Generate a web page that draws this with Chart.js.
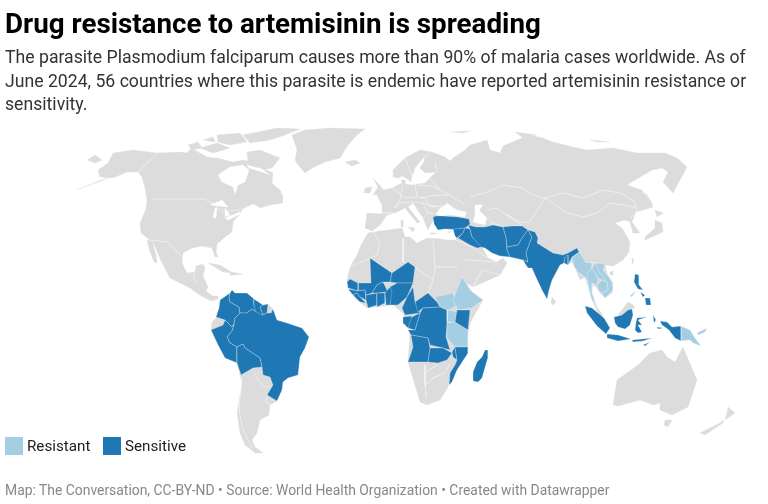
<!DOCTYPE html>
<html>
<head>
<meta charset="utf-8">
<script src="https://cdn.jsdelivr.net/npm/chart.js@4"></script>
<style>
    body { margin: 0; background: #fff; font-family: Roboto, sans-serif; }
    #wrap { position: relative; width: 768px; height: 504px; overflow: hidden; }
    #map { position: absolute; left: 0; top: 0; }
    h1 { position: absolute; left: 5px; top: 7px; margin: 0; font-size: 27.75px; line-height: 34px; font-weight: 700; color: #000; white-space: nowrap; }
    #sub { position: absolute; left: 5px; top: 46px; font-size: 17.65px; line-height: 23.5px; color: #333; white-space: nowrap; }
    #legend { position: absolute; left: 5px; top: 437px; font-size: 15.2px; line-height: 18px; color: #222; }
    #legend span { position: absolute; top: 0; white-space: nowrap; }
    #legend i { position: absolute; top: 0; width: 18px; height: 18px; }
    #foot { position: absolute; left: 5px; top: 481px; font-size: 13.9px; line-height: 18px; color: #888; white-space: nowrap; }
</style>
</head>
<body>
<div id="wrap">
    <canvas id="map" width="768" height="504"></canvas>
    <h1>Drug resistance to artemisinin is spreading</h1>
    <div id="sub">The parasite Plasmodium falciparum causes more than 90% of malaria cases worldwide. As of<br>June 2024, 56 countries where this parasite is endemic have reported artemisinin resistance or<br>sensitivity.</div>
    <div id="legend"></div>
    <div id="foot">Map: The Conversation, CC-BY-ND • Source: World Health Organization • Created with Datawrapper</div>
</div>
<script>
const legendLabels = ['Resistant', 'Sensitive'];
const landColor = '#dcdcdc';
const resistantColor = '#a6cee3';
const sensitiveColor = '#1f78b4';

// outlines, x / y in map units
const northAmerica = [[157,153],[180,152],[187,153],[191,148],[198,152],[207,157],[217,158],[233,162],[243,160],[252,162],[262,168],[273,173],[272,183],[281,191],[283,203],[270,205],[260,208],[254,204],[243,209],[239,215],[233,222],[232,232],[225,237],[217,244],[216,252],[218,257],[215,257],[212,248],[202,246],[192,248],[183,253],[182,263],[187,273],[195,272],[196,266],[203,264],[205,268],[203,276],[205,280],[208,287],[206,291],[213,296],[218,296],[218,299],[212,301],[205,298],[198,294],[190,288],[180,283],[170,278],[162,263],[153,242],[147,238],[141,233],[140,223],[146,209],[147,200],[145,188],[142,177],[138,172],[127,172],[113,178],[100,177],[98,170],[108,163],[113,153],[133,150]];
const baja = [[147,240],[152,240],[156,255],[157,263],[154,262],[150,252]];
const alaskaChain = [[112,176],[77,189.5],[100,181.5]];
const alaskaIsland = [[87,160],[95,155],[102,160],[95,163]];
const baffin = [[247,152],[260,150],[280,158],[272,168],[262,170],[248,162]];
const victoria = [[200,148],[217,143],[230,148],[213,153]];
const banks = [[188,145],[198,142],[202,148],[192,150]];
const ellesmere = [[243,135],[277,128],[300,129],[285,135],[270,140],[250,143]];
const devon = [[217,135],[240,133],[247,142],[230,145],[218,142]];
const melville = [[203,140],[213,137],[215,142]];
const newfoundland = [[275,198],[283,195],[282,203]];
const greenland = [[292,135],[305,130],[330,128],[365,129],[357,135],[348,145],[340,158],[325,162],[312,168],[305,173],[298,165],[295,160],[297,150]];
const cuba = [[208,263],[220,265],[233,273],[223,272]];
const hispaniola = [[230,272],[243,274],[230,275.5]];
const southCone = [[237,363],[241,375],[253,368],[262,367],[263,375],[270,377],[273,385],[267,395],[277,401],[270,405],[269,415],[260,420],[257,433],[252,440],[255,447],[263,453],[255,453],[245,445],[240,433],[237,413],[242,383]];
const ecuador = [[217,317],[225,320],[223,325],[213,329],[211,330],[212,322]];
const frenchGuiana = [[268,304],[273,309],[271,313],[267,313]];
const eurasia = [[365,228],[367,213],[382,214],[382,205],[375,192],[392,188],[402,183],[401,180],[405,180],[405,184],[412,185],[425,183],[430,178],[436,172],[425,173],[420,168],[425,160],[423,158],[415,168],[412,176],[411,182],[406,178],[402,176],[398,178],[393,177],[393,170],[405,158],[420,150],[432,152],[445,157],[450,161],[453,158],[465,150],[470,145],[487,140],[490,150],[500,153],[503,146],[517,140],[530,135],[543,138],[553,142],[573,147],[587,150],[613,148],[637,153],[665,153],[677,158],[687,167],[673,193],[663,182],[668,172],[662,168],[652,170],[627,185],[642,190],[653,207],[636,212],[632,222],[640,233],[633,233],[630,222],[625,220],[615,223],[622,228],[630,242],[629,252],[623,260],[613,266],[605,265],[607,273],[613,283],[612,293],[605,298],[600,293],[597,288],[593,285],[592,293],[597,307],[603,315],[600,317],[592,300],[588,287],[585,277],[580,280],[575,268],[572,262],[568,265],[565,262],[560,265],[552,280],[549,290],[547,299],[542,290],[535,275],[532,268],[526,265],[523,260],[510,257],[500,255],[492,252],[485,247],[482,247],[488,258],[497,262],[503,258],[507,263],[500,275],[473,287],[465,282],[450,247],[448,243],[447,240],[456,240],[456,231],[453,229],[437,228],[435,218],[432,222],[428,230],[423,218],[413,203],[408,207],[420,222],[417,223],[405,208],[395,213],[387,215],[380,225],[372,231]];
const africa = [[368,233],[373,232],[402,228],[405,237],[410,237],[417,243],[427,238],[440,239],[447,240],[453,250],[463,277],[472,292],[483,300],[470,323],[468,338],[468,348],[452,373],[448,387],[440,400],[427,405],[420,402],[408,362],[410,333],[403,313],[393,305],[367,308],[355,298],[347,280],[350,267],[357,255],[361,245]];
const britain = [[373,178],[382,188],[385,193],[373,195],[378,187]];
const ireland = [[365,188],[372,187],[370,193],[364,193]];
const iceland = [[345,162],[355,160],[360,163],[352,166]];
const sicily = [[408,227],[415,228],[413,232]];
const sardinia = [[401,220],[403,220],[403,227],[401,227]];
const crete = [[430,233],[436,233],[436,234],[430,234]];
const cyprus = [[447,232],[451,231],[450,233]];
const svalbard = [[450,132],[470,131],[463,133]];
const northIslands = [[515,132],[537,135],[523,138]];
const siberianIslands = [[590,140],[610,142],[597,142]];
const sakhalin = [[645,193],[647,195],[653,205],[651,205]];
const honshu = [[655,220],[662,223],[663,232],[652,237],[645,240],[645,237],[655,228]];
const hokkaido = [[655,210],[663,213],[657,217]];
const taiwan = [[632,258],[634,260],[632,265]];
const hainan = [[610,272],[613,271],[613,275],[610,275]];
const sriLanka = [[552,297],[556,302],[553,305],[551,303]];
const northBorneo = [[618,315],[628,302],[633,305],[635,308],[632,309],[628,310],[622,315]];
const australia = [[613,405],[617,380],[638,365],[650,353],[662,350],[667,357],[675,362],[683,347],[697,380],[688,407],[672,415],[660,410],[660,403],[653,405],[640,400],[618,406]];
const tasmania = [[665,420],[672,420],[668,427],[664,425]];
const nzSouth = [[700,433],[720,423],[723,420],[723,423],[705,435]];
const nzNorth = [[728,407],[735,413],[725,420],[727,413]];

const landAreas = [northAmerica, baja, alaskaChain, alaskaIsland, baffin, victoria, banks, ellesmere, devon, melville, newfoundland, greenland, cuba, hispaniola, southCone, ecuador, frenchGuiana, eurasia, africa, britain, ireland, iceland, sicily, sardinia, crete, cyprus, svalbard, northIslands, siberianIslands, sakhalin, honshu, hokkaido, taiwan, hainan, sriLanka, northBorneo, australia, tasmania, nzSouth, nzNorth];

// seas and lakes cut out of the land
const hudsonBay = [[218,175],[230,167],[243,165],[249,170],[245,182],[238,185],[235,194],[233,187],[222,182]];
const hudsonStrait = [[247,165],[262,169],[270,175],[262,172],[249,168]];
const superior = [[210,205],[222,200],[228,207],[218,206]];
const michigan = [[215,208],[217,208],[216,218],[213,218]];
const huron = [[225,208],[230,215],[225,217]];
const erie = [[225,218],[240,212],[240,214],[228,220]];
const blackSea = [[436,214],[440,208],[445,206],[447,203],[452,207],[457,210],[466,212],[465,217],[450,215],[440,216]];
const caspian = [[475,205],[483,205],[479,210],[487,218],[485,225],[473,222],[475,215]];
const waterAreas = [hudsonBay, hudsonStrait, superior, michigan, huron, erie, blackSea, caspian];

const sensitiveAreas = [
    [[230,293],[220,300],[219,308],[216,317],[225,320],[232,327],[234,324],[235,318],[240,313],[239,307],[230,302],[229,297]],
    [[230,293],[232,290],[235,293],[247,293],[254,299],[254,305],[258,313],[252,309],[247,313],[240,313],[239,307],[230,302],[229,297]],
    [[254,299],[263,305],[260,307],[263,315],[257,316],[254,305]],
    [[263,305],[268,304],[267,313],[263,315],[260,307]],
    [[271,313],[273,309],[277,320],[287,323],[302,328],[309,337],[305,348],[300,357],[298,375],[288,378],[283,382],[282,390],[277,401],[267,395],[273,385],[270,377],[263,375],[262,367],[260,358],[245,348],[243,344],[237,347],[230,343],[227,337],[232,331],[234,324],[235,318],[240,313],[247,313],[252,309],[258,313],[263,315],[267,313]],
    [[211,330],[213,329],[223,325],[225,320],[232,327],[234,324],[232,331],[227,337],[230,343],[237,347],[237,363],[225,358],[218,345]],
    [[237,347],[243,344],[245,348],[260,358],[262,367],[253,368],[241,375],[237,363]],
    [[433,217],[436,216],[443,216],[458,217],[469,219],[470,224],[468,226],[465,228],[455,229.5],[445,229],[438,230],[434,224]],
    [[453,229],[465,228],[463,233],[457,238],[455,236]],
    [[465,228],[470,229],[472,237],[482,247],[477,248],[470,245],[458,238],[463,233]],
    [[468,225],[476,227],[485,227],[493,225],[503,227],[506,237],[507,250],[510,257],[500,256],[492,253],[485,248],[481,247],[472,237],[470,229]],
    [[503,227],[512,226],[522,226],[528,230],[522,238],[518,245],[507,247],[506,237]],
    [[528,230],[532,237],[526,253],[528,262],[523,260],[510,257],[507,250],[507,247],[518,245],[522,238]],
    [[528,230],[535,232],[538,238],[537,243],[553,253],[563,255],[568,253],[577,248],[579,252],[572,257],[568,265],[565,257],[564,263],[560,265],[552,280],[549,290],[547,299],[542,290],[535,275],[532,268],[528,268],[526,265],[523,260],[528,262],[526,253],[532,237]],
    [[565,257],[568,255],[568,265],[564,263]],
    [[358,283],[358,291],[365,290],[366,295],[372,293],[377,285],[383,282],[390,282],[392,273],[370,258],[371,283]],
    [[392,273],[408,262],[415,267],[413,283],[397,283],[390,282]],
    [[390,287],[397,283],[413,283],[407,297],[398,305],[390,305]],
    [[413,287],[415,302],[420,313],[405,315],[402,308],[407,297]],
    [[415,302],[428,293],[437,302],[440,307],[423,308],[418,312]],
    [[457,310],[470,310],[468,330],[455,322]],
    [[420,313],[423,308],[440,307],[447,310],[447,322],[446,337],[450,350],[443,348],[430,345],[428,338],[411,335],[408,330],[415,330]],
    [[420,313],[415,330],[408,328],[407,322],[412,317]],
    [[403,317],[412,316],[408,328],[403,323]],
    [[411,335],[428,338],[430,348],[428,362],[408,362],[413,347]],
    [[430,348],[443,348],[452,353],[447,360],[438,363],[428,362]],
    [[455,347],[457,360],[453,357],[452,352]],
    [[455,347],[468,347],[468,353],[457,370],[452,382],[449,385],[450,373],[455,365],[457,360]],
    [[347,282],[350,279],[358,283],[358,291],[348,288]],
    [[348,289],[358,291],[365,290],[366,300],[360,297],[357,293],[353,295]],
    [[353,295],[357,293],[360,297],[366,303],[360,302]],
    [[366,295],[377,293],[377,305],[368,308],[366,300]],
    [[372,293],[377,285],[383,282],[388,292],[377,293]],
    [[377,293],[385,293],[385,303],[377,307]],
    [[385,293],[390,287],[392,292],[390,305],[386,305]],
    [[485,350],[488,350],[488,357],[482,378],[478,382],[473,381],[473,372],[477,362],[482,357]],
    [[635,274],[639,275],[639,285],[643,290],[638,289],[634,282]],
    [[645,298],[650,298],[651,305],[646,305]],
    [[640,292],[645,295],[643,297]],
    [[585,306],[592,308],[604,318],[610,328],[606,334],[597,326],[587,313]],
    [[607,334],[618,335],[631,339],[618,341],[607,338]],
    [[632,340],[652,338],[643,341],[633,342]],
    [[643,345],[650,342],[645,346]],
    [[614,317],[622,315],[628,310],[632,309],[633,315],[630,325],[625,329],[618,327],[615,323]],
    [[637,318],[647,317],[638,320],[642,325],[638,325],[642,332],[638,333],[635,330],[636,322]],
    [[653,315],[656,320],[654,323]],
    [[657,327],[663,328],[658,329]],
    [[660,321],[667,322],[672,327],[681,326],[681,341],[675,338],[669,330],[662,325]]
];

const resistantAreas = [
    [[572,258],[579,252],[582,256],[585,262],[592,263],[592,268],[587,273],[592,283],[590,290],[587,280],[585,277],[578,272],[574,266]],
    [[587,273],[592,268],[598,278],[597,285],[592,283],[592,293],[595,303],[592,300],[589,288]],
    [[592,268],[595,263],[600,273],[607,282],[602,280],[598,278]],
    [[595,263],[605,264],[603,270],[612,282],[613,290],[605,298],[602,293],[608,290],[607,282],[600,273]],
    [[597,285],[602,280],[607,282],[608,290],[602,293],[598,290]],
    [[435,297],[453,293],[455,302],[458,305],[448,310],[440,307]],
    [[462,277],[470,290],[483,300],[472,308],[458,310],[453,300],[458,287]],
    [[448,310],[457,312],[455,322],[447,322]],
    [[447,323],[455,322],[468,330],[468,347],[455,347],[447,338]],
    [[681,326],[690,330],[695,338],[701,346],[693,343],[690,340],[681,341]],
    [[697,333],[707,328],[705,332],[698,335]],
    [[630,296],[636,290],[632,297]]
];

// white country lines on the grey land
const borderLines = [
    [[157,153],[138,172]],
    [[152,199],[205,199],[215,205],[222,212],[240,210],[254,204]],
    [[148,240],[168,242],[177,252],[182,257]],
    [[195,272],[193,278],[197,282]],
    [[242,377],[239,410],[243,430],[253,450]],
    [[254,374],[263,387],[271,386]],
    [[267,395],[266,402],[270,405]],
    [[382,213],[395,213]],
    [[403,184],[400,200],[395,208],[400,203],[413,202]],
    [[415,184],[417,197],[425,198],[430,207]],
    [[430,178],[440,190],[450,195],[465,205]],
    [[430,207],[448,205]],
    [[417,197],[405,198],[392,188]],
    [[423,203],[437,207]],
    [[435,162],[437,172]],
    [[423,158],[430,153]],
    [[405,158],[412,176]],
    [[417,185],[432,186],[440,190]],
    [[420,198],[437,195],[450,195]],
    [[413,202],[423,203],[428,213],[423,218]],
    [[428,213],[435,213]],
    [[470,197],[487,192],[503,185],[522,188],[533,195],[545,198]],
    [[487,210],[497,208],[507,215],[520,222],[530,222]],
    [[530,222],[545,198]],
    [[490,222],[503,227]],
    [[507,215],[522,226]],
    [[545,198],[563,193],[583,198],[603,190],[620,193],[635,202],[637,212]],
    [[635,207],[610,203],[597,213],[583,217],[567,213],[545,198]],
    [[637,213],[630,218]],
    [[373,232],[380,242],[377,255],[350,267]],
    [[370,258],[392,273]],
    [[403,238],[403,262],[415,267],[433,280],[428,293]],
    [[433,240],[435,267],[458,267]],
    [[435,267],[433,280]],
    [[456,240],[470,246],[488,258]],
    [[465,260],[497,262]],
    [[473,287],[482,270],[500,275]],
    [[458,287],[463,277]],
    [[472,308],[483,300]],
    [[425,365],[425,385],[433,378],[445,373],[450,363]],
    [[438,365],[425,372]],
    [[425,385],[426,398]],
    [[605,265],[597,263],[585,262]]
];

const legendEl = document.getElementById('legend');
[resistantColor, sensitiveColor].forEach(function(color, i) {
    const left = i * 98;
    legendEl.innerHTML += '<i style="left:' + left + 'px;background:' + color + '"></i>' +
        '<span style="left:' + (left + 22) + 'px">' + legendLabels[i] + '</span>';
});

function outline(points, fillColor, edgeColor, edgeWidth) {
    const closed = points.concat([points[0]]);
    return {
        data: closed.map(function(p) { return { x: p[0], y: p[1] }; }),
        showLine: true,
        fill: 'shape',
        backgroundColor: fillColor,
        borderColor: edgeColor,
        borderWidth: edgeWidth,
        pointRadius: 0,
        tension: 0
    };
}

function borderLine(points) {
    return {
        data: points.map(function(p) { return { x: p[0], y: p[1] }; }),
        showLine: true,
        fill: false,
        borderColor: 'rgba(255,255,255,0.75)',
        borderWidth: 0.7,
        pointRadius: 0,
        tension: 0
    };
}

const layers = []
    .concat(landAreas.map(function(a) { return outline(a, landColor, landColor, 0.3); }))
    .concat(waterAreas.map(function(a) { return outline(a, '#ffffff', '#ffffff', 0.3); }))
    .concat(borderLines.map(borderLine))
    .concat(resistantAreas.map(function(a) { return outline(a, resistantColor, 'rgba(255,255,255,0.5)', 0.5); }))
    .concat(sensitiveAreas.map(function(a) { return outline(a, sensitiveColor, 'rgba(255,255,255,0.5)', 0.5); }));

// first dataset is painted last, so flip the stack
new Chart(document.getElementById('map'), {
    type: 'scatter',
    data: { datasets: layers.reverse() },
    options: {
        responsive: false,
        animation: false,
        events: [],
        layout: { padding: 0 },
        clip: false,
        scales: {
            x: { type: 'linear', display: false, min: 0, max: 768 },
            y: { type: 'linear', display: false, min: 0, max: 504, reverse: true }
        },
        plugins: {
            legend: { display: false },
            tooltip: { enabled: false }
        }
    }
});
</script>
</body>
</html>
